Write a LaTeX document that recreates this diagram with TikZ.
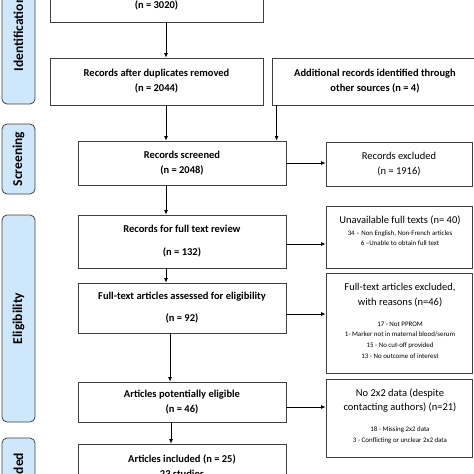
\documentclass[tikz,border=0pt]{standalone}
\usepackage{fontspec}
\setmainfont{Carlito}
\usetikzlibrary{arrows.meta}

\definecolor{sidefill}{RGB}{206,231,250}
\definecolor{boxline}{RGB}{64,64,64}

\begin{document}
\begin{tikzpicture}[x=1pt, y=-1pt,
  mainbox/.style={draw=boxline, line width=0.8pt, inner sep=0pt, align=center, font=\fontsize{10.5}{15}\selectfont\bfseries},
  sidebox/.style={draw=boxline, fill=sidefill, rounded corners=5pt, line width=0.8pt, rotate=90, inner sep=0pt, font=\fontsize{13.5}{14}\selectfont\bfseries},
  bigtext/.style={align=center, inner sep=0pt, font=\fontsize{10.5}{14.5}\selectfont},
  smalltext/.style={align=center, inner sep=0pt, font=\fontsize{6.9}{10.7}\selectfont},
  flow/.style={-{Latex[length=4.5pt,width=4pt]}, line width=0.8pt}]
\useasboundingbox (0,0) rectangle (474,474);
\clip (0,0) rectangle (474,474);

% stage labels
\node (sident) at (18.5,34) [sidebox, minimum width=140pt, minimum height=33pt] {Identification};
\node (sscreen) at (18.5,159) [sidebox, minimum width=70pt, minimum height=33pt] {Screening};
\node (selig) at (18.5,318.5) [sidebox, minimum width=207pt, minimum height=33pt] {Eligibility};
\node (sincl) at (18.5,477) [sidebox, minimum width=78pt, minimum height=33pt] {Included};

% left column
\node (idn) at (156.5,-4) [mainbox, minimum width=213pt, minimum height=52pt] {};
\node (idntxt) at (156.5,5) [mainbox, draw=none] {(n = 3020)};
\node (dup) at (156.5,81.5) [mainbox, minimum width=213pt, minimum height=47pt] {Records after duplicates removed\\(n = 2044)};
\node (add) at (375,81.5) [mainbox, minimum width=206pt, minimum height=47pt] {Additional records identified through\\other sources (n = 4)};
\node (scr) at (182,163) [mainbox, minimum width=208pt, minimum height=44pt] {Records screened\\(n = 2048)};
\node (full) at (182,241.5) [mainbox, minimum width=208pt, minimum height=53pt] {Records for full text review\\[8pt](n = 132)};
\node (assess) at (182,308) [mainbox, minimum width=208pt, minimum height=50pt] {Full-text articles assessed for eligibility\\[7pt](n = 92)};
\node (pot) at (182,402) [mainbox, minimum width=208pt, minimum height=40pt] {Articles potentially eligible\\(n = 46)};
\node (incl) at (182,472) [mainbox, minimum width=208pt, minimum height=56pt] {};
\node (incltxt) at (182,466) [mainbox, draw=none] {Articles included (n = 25)\\23 studies};

% right column
\node (excl) at (399,164) [bigtext, draw=boxline, line width=0.8pt, minimum width=146pt, minimum height=44pt] {Records excluded\\(n = 1916)};
\node (unav) at (399,237) [draw=boxline, line width=0.8pt, minimum width=146pt, minimum height=62pt] {};
\node (unavtxt) at (400,220) [bigtext] {Unavailable full texts (n= 40)};
\node (unavsub) at (400,238) [smalltext] {34 -- Non English, Non-French articles\\6 --Unable to obtain full text};
\node (fexcl) at (399,323) [draw=boxline, line width=0.8pt, minimum width=146pt, minimum height=100pt] {};
\node (fexcltxt) at (400,295) [bigtext] {Full-text articles excluded,\\with reasons (n=46)};
\node (fexclsub) at (400,340) [smalltext] {17 - Not PPROM\\1- Marker not in maternal blood/serum\\15 - No cut-off provided\\13 - No outcome of interest};
\node (nodata) at (399,418) [draw=boxline, line width=0.8pt, minimum width=146pt, minimum height=78pt] {};
\node (nodatatxt) at (400,400.5) [bigtext] {No 2x2 data (despite\\contacting authors) (n=21)};
\node (nodatasub) at (400,435) [smalltext] {18 - Missing 2x2 data\\3 - Conflicting or unclear 2x2 data};

% arrows
\draw [flow] ([xshift=9.5pt]idn.south) -- ([xshift=9.5pt]dup.north);
\draw [flow] ([xshift=9.5pt]dup.south) -- ([xshift=9.5pt]dup.south |- scr.north);
\draw [flow] ([xshift=5pt]add.south west) -- ([xshift=5pt]add.south west |- scr.north);
\draw [flow] (scr.east) -- (scr.east -| excl.west);
\draw [flow] ([xshift=-16pt]scr.south) -- ([xshift=-16pt]full.north);
\draw [flow] ([yshift=-2.5pt]full.east) -- ([yshift=-2.5pt]full.east -| unav.west);
\draw [flow] ([xshift=-16pt]full.south) -- ([xshift=-16pt]assess.north);
\draw [flow] ([yshift=-6pt]assess.east) -- ([yshift=-6pt]assess.east -| fexcl.west);
\draw [flow] ([xshift=-12pt]assess.south) -- ([xshift=-12pt]pot.north);
\draw [flow] ([yshift=-5pt]pot.east) -- ([yshift=-5pt]pot.east -| nodata.west);
\draw [flow] ([xshift=-11pt]pot.south) -- ([xshift=-11pt]incl.north);
\end{tikzpicture}
\end{document}
